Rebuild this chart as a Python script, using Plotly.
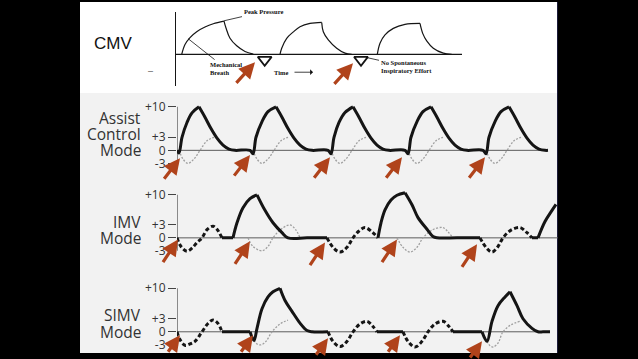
import plotly.graph_objects as go

W, H = 638, 359

# ---------------- DATA ----------------
# CMV panel (time units, pressure units; baseline = 0); None separates segments
cmv_t = [5.7, 9, 14, 20.7, 29, 37.3, 48, None,
         48, 50, 54, 60.7, 69, 77.3, None,
         104, 105.7, 110.7, 117, 124, 134, 145.7, None,
         145.7, 147.3, 152.3, 160.7, 169, 175.7, None,
         201.3, 204, 209, 217.3, 229, 244, None,
         244, 246.7, 250.7, 257.3, 267.3, 275.7]
cmv_p = [0, 10, 17, 23, 27.7, 31, 33.7, None,
         33.7, 26.7, 16.3, 8.7, 3, 0.3, None,
         0, 6.3, 16.3, 22.5, 28, 31.3, 32.3, None,
         32.3, 23, 14.7, 6.3, 1.3, 0, None,
         0, 11.3, 19.7, 26.3, 30.3, 31.3, None,
         31.3, 21.3, 13.7, 6.3, 1.3, 0]
cmv_baseline_t = [0, 286]
cmv_no_effort_t = [88.7, 185]
cmv_no_effort_p = [-5.5, -5.5]
cmv_trigger_t = [79, 177]
cmv_trigger_p = [-8, -9]

# shared y ticks of the three lower panels
tick_vals = [10, 3, 0, -3]
tick_text = ["+10", "+3", "0", "-3"]

# Assist Control Mode
assist_solid_t = [0, 2, 5, 10, 15, 22, None,
                  22, 28, 34, 40, 46, 52, 58, 73, 76, 79, 85, 91, 99, None,
                  99, 105, 111, 117, 123, 129, 135, 151, 154, 157, 162, 168, 176, None,
                  176, 182, 188, 194, 200, 206, 212, 228, 231, 234, 240, 246, 254, None,
                  254, 260, 266, 272, 278, 284, 290, 306, 309, 312, 318, 324, 332, None,
                  332, 338, 344, 350, 356, 362, 368, 371]
assist_solid_p = [0, -0.6, 3, 6.4, 8.6, 10, None,
                  10, 7.6, 5, 2.8, 1.2, 0.3, 0, 0, -0.8, 3, 6.6, 8.9, 10, None,
                  10, 7.6, 5, 2.8, 1.2, 0.3, 0, 0, -0.8, 3, 6.4, 8.7, 10, None,
                  10, 7.6, 5, 2.8, 1.2, 0.3, 0, 0, -0.8, 3, 6.6, 8.9, 10, None,
                  10, 7.6, 5, 2.8, 1.2, 0.3, 0, 0, -0.8, 3, 6.6, 8.9, 10, None,
                  10, 7.6, 5, 2.8, 1.2, 0.3, 0, 0]
assist_flow_t = [2, 6, 11, 17, 23, 30, 37, None,
                 76, 80, 85, 91, 97, 104, 111, None,
                 154, 158, 163, 169, 175, 182, 189, None,
                 231, 235, 240, 246, 252, 259, 266, None,
                 309, 313, 318, 324, 330, 337, 344]
assist_flow_p = [0, -2, -3, -2, 0, 2.2, 3, None,
                 0, -2, -3, -2, 0, 2.2, 3, None,
                 0, -2, -3, -2, 0, 2.2, 3, None,
                 0, -2, -3, -2, 0, 2.2, 3, None,
                 0, -2, -3, -2, 0, 2.2, 3]
assist_baseline_t = [0, 371]
assist_trigger_t = [3, 73, 153, 225, 308]
assist_trigger_p = [-1.8, -1.1, -1.6, -1.6, -1.6]

# IMV Mode
imv_solid_t = [45, 56, None,
               56, 60, 66, 73, 80, None,
               80, 88, 96, 105, 111, 130, 150, None,
               201, 204, 208, 214, 220, 228, None,
               228, 235, 241, 250, 256, 260, 280, 303, None,
               355, 361, None,
               361, 368, 375, 379]
imv_solid_p = [0, 0, None,
               0, 3.5, 7, 9.1, 10, None,
               10, 6.4, 3.5, 1.2, 0, 0, 0, None,
               0, 3.5, 6.5, 8.8, 9.9, 10.5, None,
               10.5, 7.7, 4.7, 2, 0.3, 0, 0, 0, None,
               0, 0, None,
               0, 3.8, 6.4, 7.8]
imv_spont_t = [0, 4, 10, 15, 20, 25, 30, 36, 40, 45, None,
               150, 156, 163, 170, 176, 182, 188, 195, 201, None,
               303, 309, 315, 321, 326, 334, 343, 350, 355]
imv_spont_p = [0, -2, -3.1, -2.4, -1.1, 0, 1.9, 2.7, 2, 0, None,
               0, -2.2, -3.3, -2.2, 0, 1.6, 2.4, 1.4, 0, None,
               0, -2.2, -3.3, -2, 0, 1.8, 2.4, 1.2, 0]
imv_flow_t = [71, 76, 85, 91, 96, 104, 113, 119, 123, None,
              220, 226, 233, 240, 246, 255, 266, 271, 276]
imv_flow_p = [0, -2, -3, -2, 0, 2, 3, 1.8, 0, None,
              0, -2.2, -3.3, -2.2, 0, 1.8, 2.4, 1.4, 0]
imv_baseline_t = [0, 381]
imv_trigger_t = [1, 73, 148, 220, 300]
imv_trigger_p = [-0.4, -0.8, -1.1, -0.4, -1.5]

# SIMV Mode
simv_solid_t = [45, 73, None,
                73, 77, 80, 85, 91, 96, 103, None,
                103, 108, 115, 123, 130, 135, 151, None,
                200, 226, None,
                276, 305, None,
                305, 310, 315, 321, 328, 333, None,
                333, 340, 346, 355, 361, 366, 373]
simv_solid_p = [0, 0, None,
                0, -2, 0.8, 5.3, 8, 9.2, 10, None,
                10, 7.2, 4.7, 2, 0.3, 0, 0, None,
                0, 0, None,
                0, 0, None,
                0, -2.2, 2.4, 6, 8, 9.2, None,
                9.2, 6, 3, 0.8, 0, 0, 0]
simv_spont_t = [0, 3, 8, 13, 18, 25, 31, 36, 41, 45, None,
                151, 156, 163, 170, 176, 183, 190, 196, 200, None,
                226, 231, 238, 245, 251, 258, 266, 272, 276]
simv_spont_p = [0, -1.8, -3.1, -2.8, -2.2, 0, 1.9, 2.7, 1.9, 0, None,
                0, -2.2, -3.4, -2.2, 0, 1.8, 2.4, 1.2, 0, None,
                0, -2.2, -3.5, -2.2, 0, 1.8, 2.4, 1.2, 0]
simv_flow_t = [77, 80, 84, 89, 95, 103, 111, None,
               310, 313, 316, 321, 326, 334, 343]
simv_flow_p = [-2, -2.8, -3, -2.2, 0, 1.8, 2.7, None,
               -2.2, -3.2, -3.5, -2.6, 0, 1.6, 2.4]
simv_baseline_t = [0, 373]
simv_trigger_t = [3, 76, 151, 223, 305]
simv_trigger_p = [-0.8, -0.8, -1.5, -0.8, -2.2]

# ---------------- STYLE / LAYOUT ----------------
ARROW = "#b0431b"
INK = "#151515"
FLOW = "#a0a0a0"
BASE = "#5c5c5c"
LABEL = "#333333"
Y_RANGE = [-4.5, 11.5]


def xdom(p0, p1):
    return [p0 / W, p1 / W]


def ydom(top, bot):
    return [1 - bot / H, 1 - top / H]


def px(p):
    return p / W


def py(p):
    return 1 - p / H


fig = go.Figure()


def add_line(x, y, axes, color, width, dash=None):
    fig.add_trace(go.Scatter(
        x=x, y=y, xaxis=axes[0], yaxis=axes[1], mode="lines",
        line=dict(color=color, width=width, dash=dash, shape="spline", smoothing=1),
        connectgaps=False, hoverinfo="skip", showlegend=False))


# CMV traces
add_line(cmv_baseline_t, [0] * len(cmv_baseline_t), ("x", "y"), INK, 1.2)
add_line(cmv_t, cmv_p, ("x", "y"), INK, 1.2)
fig.add_trace(go.Scatter(
    x=cmv_no_effort_t, y=cmv_no_effort_p, xaxis="x", yaxis="y", mode="markers",
    marker=dict(symbol="triangle-down-open", size=12, color=INK, line=dict(width=1.8, color=INK)),
    hoverinfo="skip", showlegend=False))

panels = [
    ("2", 150.0, 4.4, assist_baseline_t, assist_flow_t, assist_flow_p,
     assist_solid_t, assist_solid_p, None, None, assist_trigger_t, assist_trigger_p, (-17, 22),
     ["Assist", "Control", "Mode"]),
    ("3", 238.5, 4.35, imv_baseline_t, imv_flow_t, imv_flow_p,
     imv_solid_t, imv_solid_p, imv_spont_t, imv_spont_p, imv_trigger_t, imv_trigger_p, (-16, 24),
     ["IMV", "Mode"]),
    ("4", 333.5, 4.4, simv_baseline_t, simv_flow_t, simv_flow_p,
     simv_solid_t, simv_solid_p, simv_spont_t, simv_spont_p, simv_trigger_t, simv_trigger_p, (-13, 18),
     ["SIMV", "Mode"]),
]

layout = dict(
    width=W, height=H, margin=dict(l=0, r=0, t=0, b=0),
    paper_bgcolor="black", plot_bgcolor="rgba(0,0,0,0)", showlegend=False,
    xaxis=dict(domain=xdom(176, 470), range=[0, 294], visible=False, anchor="y", fixedrange=True),
    yaxis=dict(domain=ydom(10, 85), range=[-32, 43], anchor="x", showline=True,
               linecolor=INK, linewidth=1.3, showgrid=False, zeroline=False,
               showticklabels=False, ticks="", fixedrange=True),
)

shapes = [
    dict(type="rect", xref="paper", yref="paper", x0=px(80), x1=px(558), y0=py(355), y1=py(0),
         fillcolor="white", line=dict(width=0), layer="below"),
    dict(type="rect", xref="paper", yref="paper", x0=px(80), x1=px(558), y0=py(355), y1=py(92),
         fillcolor="#f2f2f2", line=dict(width=0), layer="below"),
    dict(type="line", xref="paper", yref="paper", x0=px(557.5), x1=px(557.5), y0=py(355), y1=py(0),
         line=dict(color="#1b1b3a", width=1), layer="below"),
]

annotations = []

for k, zero_py, sc, base_t, flow_t, flow_p, sol_t, sol_p, sp_t, sp_p, trig_t, trig_p, off, lbl in panels:
    top = zero_py - Y_RANGE[1] * sc
    bot = zero_py - Y_RANGE[0] * sc
    layout["xaxis" + k] = dict(domain=xdom(177, 558), range=[0, 381], visible=False,
                               anchor="y" + k, fixedrange=True)
    layout["yaxis" + k] = dict(domain=ydom(top, bot), range=Y_RANGE, anchor="x" + k,
                               tickmode="array", tickvals=tick_vals, ticktext=tick_text,
                               ticks="outside", ticklen=8, tickwidth=1, tickcolor="#444",
                               showgrid=False, zeroline=False, showline=False, fixedrange=True,
                               tickfont=dict(family="Open Sans", size=12, color=LABEL))
    ax = ("x" + k, "y" + k)
    add_line(base_t, [0] * len(base_t), ax, BASE, 1)
    add_line(flow_t, flow_p, ax, FLOW, 1.3, dash="2px,1.5px")
    add_line(sol_t, sol_p, ax, INK, 3)
    if sp_t is not None:
        add_line(sp_t, sp_p, ax, INK, 3, dash="4px,2.5px")
    shapes.append(dict(type="line", xref="x" + k, yref="y" + k, x0=0, x1=0,
                       y0=min(tick_vals), y1=max(tick_vals),
                       line=dict(color="#444", width=1.2), layer="below"))
    for t, p in zip(trig_t, trig_p):
        annotations.append(dict(x=t, y=p, xref="x" + k, yref="y" + k, ax=off[0], ay=off[1],
                                text="", showarrow=True, arrowhead=2, arrowsize=1,
                                arrowwidth=3.2, arrowcolor=ARROW, standoff=0))
    n = len(lbl)
    for i, line in enumerate(lbl):
        ypx = zero_py - (n - 1 - i) * 16.5
        annotations.append(dict(x=px(142), y=py(ypx), xref="paper", yref="paper",
                                xanchor="right", yanchor="middle", text=line, showarrow=False,
                                height=16, borderpad=0, valign="middle",
                                font=dict(family="Open Sans", size=15.5, color=LABEL)))

# CMV arrows
for t, p in zip(cmv_trigger_t, cmv_trigger_p):
    annotations.append(dict(x=t, y=p, xref="x", yref="y", ax=-20, ay=22, text="",
                            showarrow=True, arrowhead=2, arrowsize=1, arrowwidth=3.2,
                            arrowcolor=ARROW, standoff=0))

TINY = dict(family="Liberation Serif", size=6.5, color="#111")
annotations += [
    dict(x=px(113), y=py(42), xref="paper", yref="paper", text="CMV", showarrow=False,
         xanchor="center", yanchor="middle",
         font=dict(family="Liberation Sans", size=17, color="#111")),
    dict(x=48, y=34, xref="x", yref="y", text="<b>Peak Pressure</b>", showarrow=True,
         ax=39, ay=-9, arrowhead=0, arrowwidth=0.8, arrowcolor="#111", font=TINY),
    dict(x=12, y=16, xref="x", yref="y", text="<b>Mechanical<br>Breath</b>", align="left",
         showarrow=True, ax=38, ay=30, arrowhead=0, arrowwidth=0.8, arrowcolor="#111", font=TINY),
    dict(x=190, y=-3, xref="x", yref="y", text="<b>No Spontaneous<br>Inspiratory Effort</b>",
         align="left", showarrow=True, ax=40, ay=9, arrowhead=0, arrowwidth=0.8,
         arrowcolor="#111", font=TINY),
    dict(x=px(280.5), y=py(71), xref="paper", yref="paper", text="<b>Time</b>", showarrow=False,
         xanchor="center", yanchor="middle", font=TINY),
    dict(x=px(313), y=py(71), xref="paper", yref="paper", text="", showarrow=True,
         ax=-20, ay=0, arrowhead=1, arrowsize=1.2, arrowwidth=0.8, arrowcolor="#111", standoff=0),
    dict(x=px(150), y=py(70), xref="paper", yref="paper", text="–", showarrow=False,
         xanchor="center", yanchor="middle",
         font=dict(family="Liberation Sans", size=9, color="#555")),
]

layout["shapes"] = shapes
layout["annotations"] = annotations
fig.update_layout(**layout)
fig.write_html(
    "out.html",
    config={"displayModeBar": False},
    post_script="document.body.style.margin='0';document.body.style.background='black';",
)
